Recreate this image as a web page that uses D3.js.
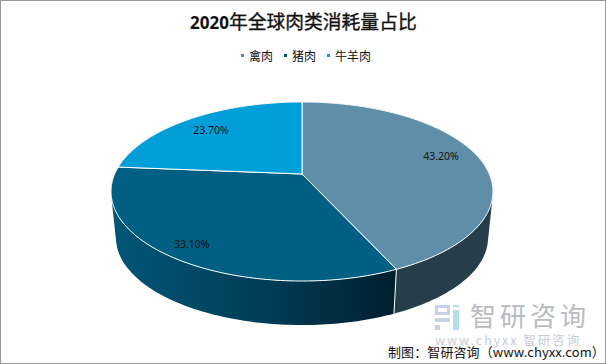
<!DOCTYPE html>
<html>
<head>
<meta charset="utf-8">
<script src="https://cdn.jsdelivr.net/npm/d3@7"></script>
<style>
  html, body { margin: 0; padding: 0; background: #fff; }
  svg { display: block; }
</style>
</head>
<body>
<div id="chart"></div>
<script>
// data
const categories = ["禽肉", "猪肉", "牛羊肉"];
const shares = [43.2, 33.1, 23.7];
const sliceColors = ["#5f8fa8", "#005f83", "#009fd9"];
const legendDots = ["#4f8fa8", "#004f70", "#009fd9"];

const width = 606, height = 364;
const cjk = "'Noto Sans CJK SC', sans-serif";

const svg = d3.select("#chart").append("svg")
  .attr("width", width)
  .attr("height", height);

// gradient for the front wall
const defs = svg.append("defs");
const wallGrad = defs.append("linearGradient").attr("id", "wallPork")
  .attr("gradientUnits", "userSpaceOnUse")
  .attr("x1", 112).attr("x2", 396).attr("y1", 0).attr("y2", 0);
wallGrad.append("stop").attr("offset", "0").attr("stop-color", "#005677");
wallGrad.append("stop").attr("offset", "0.55").attr("stop-color", "#003c56");
wallGrad.append("stop").attr("offset", "1").attr("stop-color", "#001f2e");

// frame on the left, top, right and bottom
svg.append("rect")
  .attr("x", 0.5).attr("y", 0.5)
  .attr("width", width - 1).attr("height", height - 1)
  .attr("fill", "none")
  .attr("stroke", "#999");

// title
const title = svg.append("text")
  .attr("x", 190).attr("y", 29)
  .style("fill", "#111");
title.append("tspan")
  .style("font-family", "'Open Sans', sans-serif")
  .style("font-size", "17px")
  .style("font-weight", "bold")
  .text("2020");
title.append("tspan")
  .style("font-family", cjk)
  .style("font-size", "18.8px")
  .style("stroke", "#111")
  .style("stroke-width", "0.35px")
  .text("年全球肉类消耗量占比");

// legend
const legendX = d3.scalePoint().domain(categories).range([241, 327]);
const legend = svg.selectAll(".legend").data(categories).join("g")
  .attr("class", "legend")
  .attr("transform", d => `translate(${legendX(d)},56)`);
legend.append("rect")
  .attr("x", 0).attr("y", -2).attr("width", 3).attr("height", 3)
  .attr("fill", (d, i) => legendDots[i]);
legend.append("text")
  .attr("x", 8).attr("y", 4.5)
  .style("font-family", cjk).style("font-size", "12px").style("fill", "#111")
  .text(d => d);

// perspective disc: theta is clockwise from the top
const cx = 302, apexY = 174, rx = 187.3, ry = 86.1, persp = 0.1955;
const floorY = 220.8, floorScale = 0.974;

function project(theta, floor) {
  const u = Math.sin(theta), v = -Math.cos(theta);
  const w = 1 - persp * v;
  const k = floor ? floorScale : 1;
  return [cx + k * rx * u / w, (floor ? floorY : apexY) + k * ry * v / w];
}

function arcPoints(a0, a1, floor) {
  const n = Math.max(2, Math.ceil((a1 - a0) / 0.02));
  return d3.range(n + 1).map(i => project(a0 + (a1 - a0) * i / n, floor));
}

const pie = d3.pie().value(d => d).sort(null);
const slices = pie(shares);
const line = d3.line();

// wall as a run of small quads, all wound the same way so the fold at the
// far left and right doesn't cancel out under the nonzero fill rule
function wallPath(d) {
  const top = arcPoints(d.startAngle, d.endAngle, false);
  const bottom = arcPoints(d.startAngle, d.endAngle, true);
  return d3.range(top.length - 1).map(i => {
    const quad = [top[i], top[i + 1], bottom[i + 1], bottom[i]];
    if (d3.polygonArea(quad) < 0) quad.reverse();
    return line(quad) + "Z";
  }).join("");
}

// walls first, the top faces cover whatever is behind them
const wallColor = ["#263e4a", "url(#wallPork)", "#007aa8"];
svg.append("g").selectAll("path").data(slices).join("path")
  .attr("d", wallPath)
  .attr("fill", (d, i) => wallColor[i]);

// white seam between the two front walls
const seam = slices[0].endAngle;
svg.append("path")
  .attr("d", line([project(seam, false), project(seam, true)]))
  .attr("stroke", "#fff").attr("stroke-width", 1).attr("fill", "none");

// top faces
svg.append("g").selectAll("path").data(slices).join("path")
  .attr("d", d => line([[cx, apexY]].concat(arcPoints(d.startAngle, d.endAngle, false))) + "Z")
  .attr("fill", (d, i) => sliceColors[i])
  .attr("stroke", "#fff")
  .attr("stroke-width", 1)
  .attr("stroke-linejoin", "round");

// value labels, offset along each slice's mid angle
const labelRadius = [0.811, 0.846, 0.805];
const labelTurn = [-0.06, 0.013, -0.015];
svg.append("g").selectAll("text").data(slices).join("text")
  .attr("transform", (d, i) => {
    const mid = (d.startAngle + d.endAngle) / 2 + labelTurn[i];
    const p = project(mid, false);
    const x = cx + (p[0] - cx) * labelRadius[i];
    const y = apexY + (p[1] - apexY) * labelRadius[i];
    return `translate(${x},${y})`;
  })
  .attr("text-anchor", "middle")
  .attr("dy", "0.35em")
  .style("font-family", "'Noto Sans', sans-serif")
  .style("font-size", "10.5px")
  .style("fill", "#111")
  .text(d => d.value.toFixed(2) + "%");

// watermark logo
const logo = svg.append("g").attr("fill", "#c6d2e6");
[[435, 305, 15, 3], [447, 305, 3, 10], [435, 312, 15, 3], [435, 305, 3, 9],
 [435, 318, 15, 4], [435, 325, 5, 5]].forEach(r => {
  logo.append("rect").attr("x", r[0]).attr("y", r[1]).attr("width", r[2]).attr("height", r[3]);
});
[[453, 305, 6, 2], [453, 310, 6, 20]].forEach(r => {
  logo.append("rect").attr("x", r[0]).attr("y", r[1]).attr("width", r[2]).attr("height", r[3])
    .attr("fill", "#b9dcf0");
});

svg.append("text")
  .attr("x", 470).attr("y", 326)
  .style("font-family", cjk)
  .style("font-size", "26px")
  .style("letter-spacing", "4px")
  .style("fill", "#b9bcbf")
  .text("智研咨询");

svg.append("text")
  .attr("x", 435).attr("y", 345)
  .style("font-family", cjk)
  .style("font-size", "12.5px")
  .style("letter-spacing", "2px")
  .style("fill", "#c6ccd4")
  .text("www.chyxx 智研咨询");

// source line
svg.append("text")
  .attr("x", 388).attr("y", 356.5)
  .style("font-family", cjk)
  .style("font-size", "13px")
  .style("letter-spacing", "0.1px")
  .style("fill", "#111")
  .text("制图：智研咨询（www.chyxx.com）");
</script>
</body>
</html>
